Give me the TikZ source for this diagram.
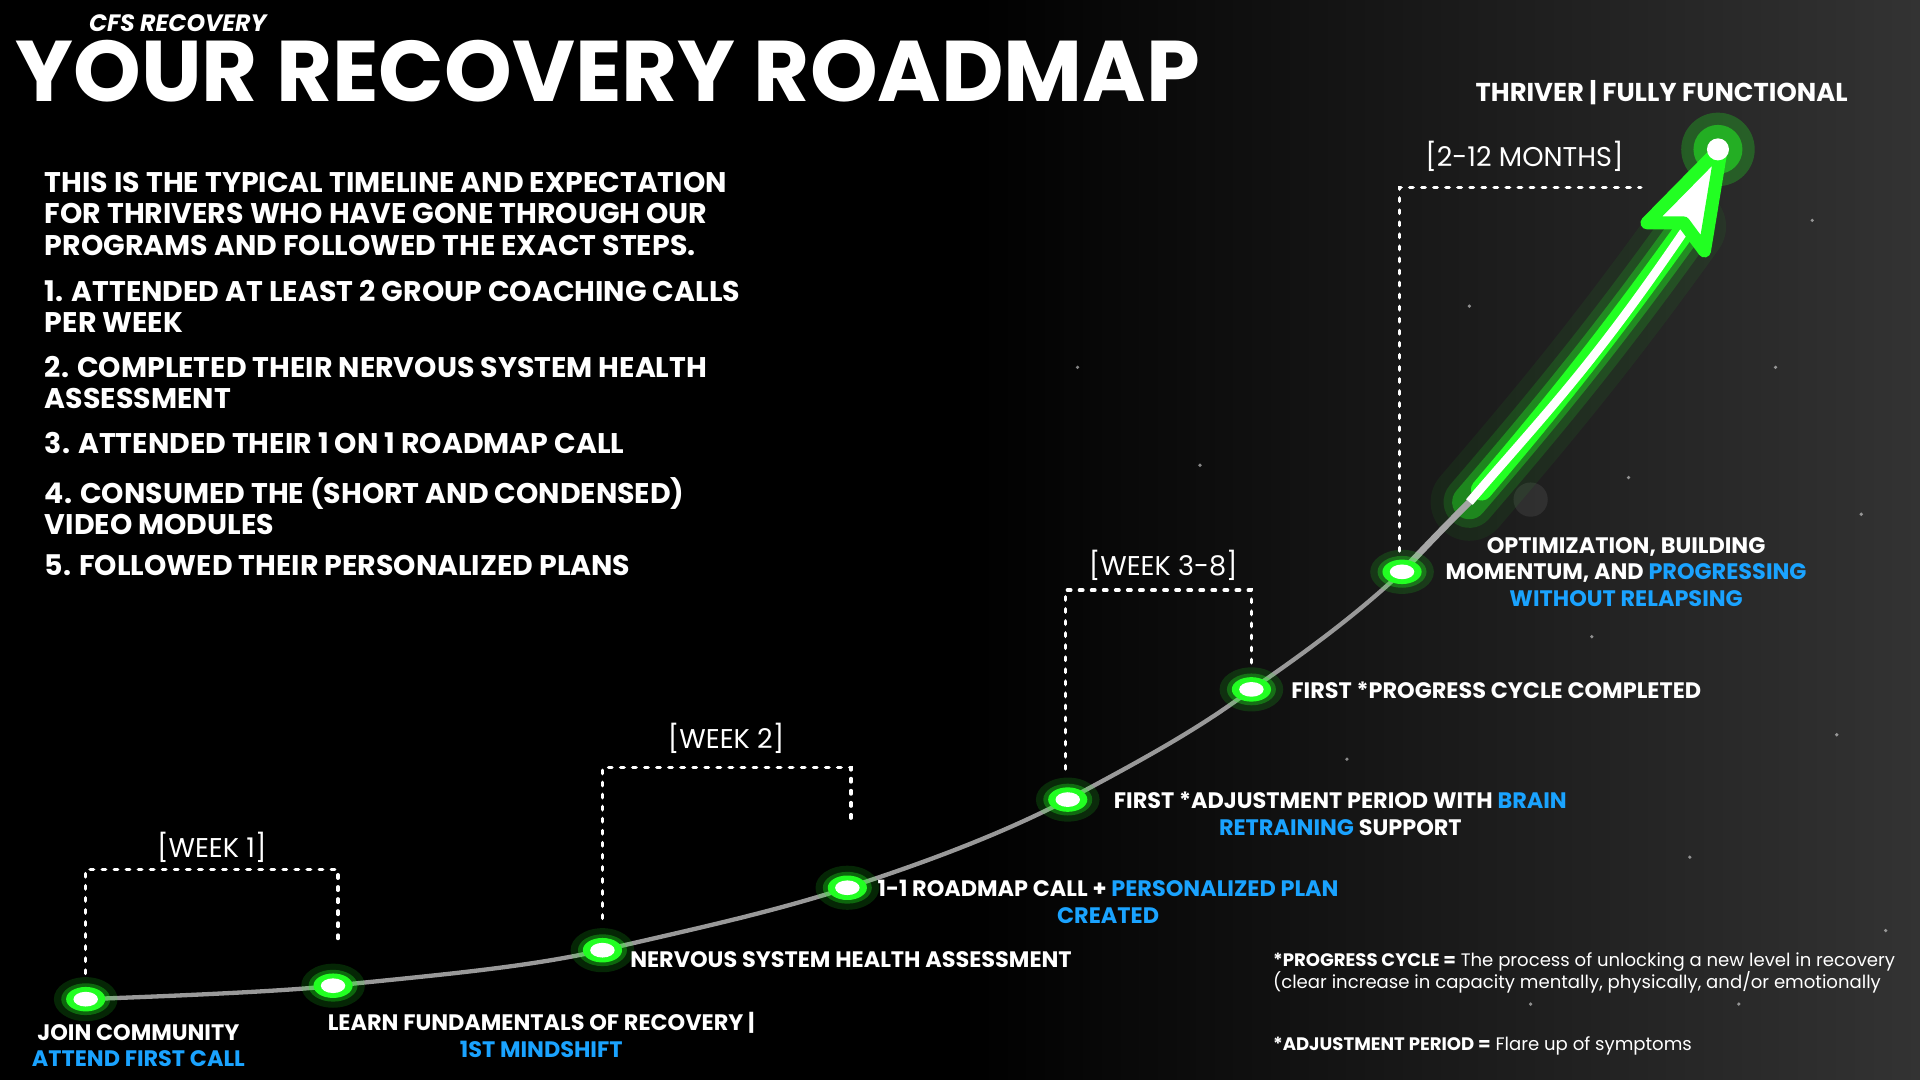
\documentclass[tikz,border=0pt]{standalone}
\usepackage{fontspec}
\setmainfont{Poppins}
\usetikzlibrary{arrows.meta}
\definecolor{nblue}{HTML}{1AA3FF}
\definecolor{ngreen}{HTML}{22FF22}
\tikzset{
 lbl/.style={font=\bfseries\fontsize{5.2}{6.2}\selectfont, text=white, align=center, inner sep=0},
 brk/.style={white, dotted, line width=0.8pt, line cap=round},
 wk/.style={font=\fontsize{6.3}{7}\selectfont, text=white, inner sep=0},
 body/.style={font=\bfseries\fontsize{6.6}{7.3}\selectfont, text=white, align=left, anchor=north west, inner sep=0},
}
\newcommand{\gdot}[2]{%
 \fill[ngreen, opacity=0.15] (#1) ellipse (26 and 18);
 \fill[ngreen, opacity=0.3] (#1) ellipse (20 and 13);
 \fill[ngreen] (#1) ellipse (16 and 10);
 \fill[white] (#1) ellipse (10 and 6);
 \coordinate (#2) at (#1);}
\begin{document}
\begin{tikzpicture}[x=0.01cm,y=-0.01cm]
\shade[left color=black, right color=black!80!white, middle color=black] (0,0) rectangle (1568,882);
\useasboundingbox (0,0) rectangle (1568,882);
% specks
\foreach \x/\y in {1450/300,1300/520,1500/600,1200/250,1380/700,1520/420,1250/820,1480/180,980/380,1100/620,1540/760,880/300,1330/390,1420/820}
 \fill[white,opacity=0.5] (\x,\y) circle (1.5);
\fill[white,opacity=0.08] (1250,408) circle (14);
% title
\node[anchor=west, font=\bfseries\itshape\fontsize{5.5}{6}\selectfont, text=white, inner sep=0] (t0) at (72,19) {CFS RECOVERY};
\node[anchor=west, font=\bfseries\fontsize{20}{24}\selectfont, text=white, inner sep=0] (t1) at (12,58) {YOUR RECOVERY ROADMAP};
\node[body] (b0) at (36,140) {THIS IS THE TYPICAL TIMELINE AND EXPECTATION\\FOR THRIVERS WHO HAVE GONE THROUGH OUR\\PROGRAMS AND FOLLOWED THE EXACT STEPS.};
\node[body] (b1) at (36,228) {1. ATTENDED AT LEAST 2 GROUP COACHING CALLS\\PER WEEK};
\node[body] (b2) at (36,290) {2. COMPLETED THEIR NERVOUS SYSTEM HEALTH\\ASSESSMENT};
\node[body] (b3) at (36,352) {3. ATTENDED THEIR 1 ON 1 ROADMAP CALL};
\node[body] (b4) at (36,389) {4. CONSUMED THE (SHORT AND CONDENSED)\\VIDEO MODULES};
\node[body] (b5) at (36,452) {5. FOLLOWED THEIR PERSONALIZED PLANS};
% curve
\draw[gray!80, line width=1pt] (70,816) .. controls (180,812) and (250,808) .. (272,805)
 .. controls (360,796) and (430,790) .. (492,776)
 .. controls (570,758) and (630,745) .. (692,725)
 .. controls (760,703) and (820,680) .. (872,653)
 .. controls (930,622) and (980,595) .. (1022,563)
 .. controls (1070,530) and (1110,500) .. (1145,467);
% big arrow
\foreach \w/\o in {18/0.06,12/0.15,8/0.35}
 \draw[ngreen, opacity=\o, line width=\w pt, line cap=round] (1200,410) .. controls (1260,340) and (1310,280) .. (1378,185);
\draw[ngreen, line width=5pt, line cap=round] (1210,400) .. controls (1265,335) and (1310,280) .. (1378,185);
\draw[gray!70, line width=1.5pt] (1145,467) .. controls (1170,440) and (1190,420) .. (1210,400);
\draw[white, line width=2pt] (1200,410) .. controls (1260,340) and (1300,300) .. (1378,185);
\fill[ngreen, opacity=0.25] (1403,122) circle (30);
\fill[ngreen, opacity=0.5] (1403,122) circle (20);
\draw[ngreen, line width=3pt, fill=white, line join=round] (1345,182) -- (1406,120) -- (1392,205) -- (1375,182) -- cycle;
\fill[white] (1403,122) circle (9);
% dots
\gdot{70,816}{d1}
\gdot{272,805}{d2}
\gdot{492,776}{d3}
\gdot{692,725}{d4}
\gdot{872,653}{d5}
\gdot{1022,563}{d6}
\gdot{1145,467}{d7}
% brackets
\draw[brk] (70,795) -- (70,710) -- (276,710) -- (276,770);
\node[wk] (w1) at (173,692) {[WEEK 1]};
\draw[brk] (492,750) -- (492,627) -- (695,627) -- (695,672);
\node[wk] (w2) at (593,603) {[WEEK 2]};
\draw[brk] (870,628) -- (870,482) -- (1022,482) -- (1022,542);
\node[wk] (w3) at (950,462) {[WEEK 3-8]};
\draw[brk] (1143,450) -- (1143,153) -- (1340,153);
\node[wk] (w4) at (1245,128) {[2-12 MONTHS]};
% labels
\node[lbl, font=\bfseries\fontsize{6}{7}\selectfont] (l8) at (1357,76) {THRIVER | FULLY FUNCTIONAL};
\node[lbl] (l1) at (113,854) {JOIN COMMUNITY\\\textcolor{nblue}{ATTEND FIRST CALL}};
\node[lbl] (l2) at (442,845) {LEARN FUNDAMENTALS OF RECOVERY |\\\textcolor{nblue}{1ST MINDSHIFT}};
\node[lbl, anchor=west] (l3) at (514,784) {NERVOUS SYSTEM HEALTH ASSESSMENT};
\node[lbl, anchor=north west, align=center] (l4) at (716,718) {1-1 ROADMAP CALL + \textcolor{nblue}{PERSONALIZED PLAN}\\\textcolor{nblue}{CREATED}};
\node[lbl, anchor=north west, align=center] (l5) at (909,646) {FIRST *ADJUSTMENT PERIOD WITH \textcolor{nblue}{BRAIN}\\\textcolor{nblue}{RETRAINING} SUPPORT};
\node[lbl, anchor=west] (l6) at (1054,564) {FIRST *PROGRESS CYCLE COMPLETED};
\node[lbl] (l7) at (1328,467) {OPTIMIZATION, BUILDING\\MOMENTUM, AND \textcolor{nblue}{PROGRESSING}\\\textcolor{nblue}{WITHOUT RELAPSING}};
\node[anchor=north west, text=white, font=\fontsize{4.2}{5.3}\selectfont, align=left, inner sep=0] (n1) at (1039,777) {\textbf{*PROGRESS CYCLE =} The process of unlocking a new level in recovery\\(clear increase in capacity mentally, physically, and/or emotionally};
\node[anchor=west, text=white, font=\fontsize{4.2}{5.3}\selectfont, inner sep=0] (n2) at (1039,854) {\textbf{*ADJUSTMENT PERIOD =} Flare up of symptoms};
\end{tikzpicture}
\end{document}
